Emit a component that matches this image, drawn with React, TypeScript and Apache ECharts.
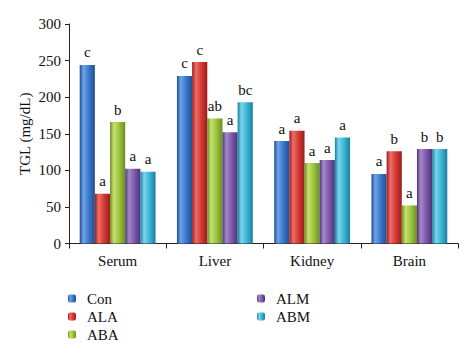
import React, { useEffect, useRef } from "react";
import * as echarts from "echarts";

const categories = ["Serum", "Liver", "Kidney", "Brain"];
const seriesNames = ["Con", "ALA", "ABA", "ALM", "ABM"];
const conValues = [244, 229, 140, 95];
const alaValues = [68, 248, 154, 126];
const abaValues = [166, 171, 110, 52];
const almValues = [102, 152, 114, 129];
const abmValues = [98, 193, 145, 129];
const conLetters = ["c", "c", "a", "a"];
const alaLetters = ["a", "c", "a", "b"];
const abaLetters = ["b", "ab", "a", "a"];
const almLetters = ["a", "a", "a", "b"];
const abmLetters = ["a", "bc", "a", "b"];
const yTicks = [0, 50, 100, 150, 200, 250, 300];

const palette = [
  { dark: "#1f4f96", base: "#3a78cc", light: "#6fa3e6" },
  { dark: "#9a1c1a", base: "#d63a36", light: "#ee6e68" },
  { dark: "#6c8e22", base: "#9cc43e", light: "#c4e26e" },
  { dark: "#4f3478", base: "#7e5aaa", light: "#a687cc" },
  { dark: "#1b7f9c", base: "#3cb6d6", light: "#7ad6ec" },
];

const FONT = "Liberation Serif";

function grad(i: number) {
  const p = palette[i];
  return new echarts.graphic.LinearGradient(0, 0, 1, 0, [
    { offset: 0, color: p.dark },
    { offset: 0.25, color: p.light },
    { offset: 0.6, color: p.base },
    { offset: 1, color: p.dark },
  ]);
}

export default function App() {
  const ref = useRef<HTMLDivElement>(null);
  useEffect(() => {
    document.body.style.margin = "0";
    if (!ref.current) return;
    const chart = echarts.init(ref.current, null, { renderer: "svg" });
    const values = [conValues, alaValues, abaValues, almValues, abmValues];
    const letters = [conLetters, alaLetters, abaLetters, almLetters, abmLetters];
    const legendBase = {
      orient: "vertical",
      top: 286,
      height: 80,
      itemWidth: 8,
      itemHeight: 8,
      itemGap: 3,
      textStyle: { fontFamily: FONT, fontSize: 15, color: "#111", padding: [0, 0, 0, 6] },
    };
    chart.setOption({
      animation: false,
      backgroundColor: "#ffffff",
      grid: { left: 69, right: 16, top: 24, bottom: 119.5 },
      legend: [
        { ...legendBase, data: seriesNames.slice(0, 3), left: 63 },
        { ...legendBase, data: seriesNames.slice(3), left: 252 },
      ],
      xAxis: {
        type: "category",
        data: categories,
        axisLine: { lineStyle: { color: "#222", width: 1 } },
        axisTick: { show: true, alignWithLabel: false, length: 5, lineStyle: { color: "#222" } },
        axisLabel: { fontFamily: FONT, fontSize: 15, color: "#111", margin: 10 },
      },
      yAxis: {
        type: "value",
        min: yTicks[0],
        max: yTicks[yTicks.length - 1],
        interval: 50,
        name: "TGL (mg/dL)",
        nameLocation: "middle",
        nameGap: 37,
        nameMoveOverlap: false,
        nameTextStyle: { fontFamily: FONT, fontSize: 15, color: "#111" },
        axisLine: { show: true, lineStyle: { color: "#222", width: 1 } },
        axisTick: { show: true, length: 4, lineStyle: { color: "#222" } },
        axisLabel: { fontFamily: FONT, fontSize: 15, color: "#111", margin: 8 },
        splitLine: { show: false },
      },
      series: seriesNames.map((name, i) => ({
        name,
        type: "bar",
        data: values[i],
        barGap: "0%",
        barCategoryGap: "22%",
        itemStyle: { color: grad(i) },
        label: {
          show: true,
          position: "top",
          distance: 5,
          fontFamily: FONT,
          fontSize: 15,
          color: "#111",
          formatter: (p: any) => letters[i][p.dataIndex],
        },
      })),
    });
    return () => chart.dispose();
  }, []);
  return <div ref={ref} style={{ width: 474, height: 363 }} />;
}
